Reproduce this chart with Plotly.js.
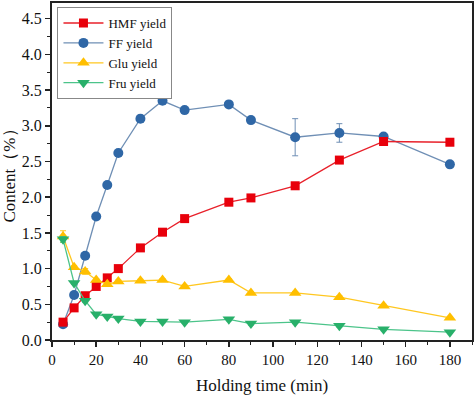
<!DOCTYPE html>
<html>
<head>
<meta charset="utf-8">
<script src="https://cdn.plot.ly/plotly-3.0.1.min.js"></script>
<style>html,body{margin:0;padding:0;background:#fff;}#chart{width:474px;height:395px;}</style>
</head>
<body>
<div id="chart"></div>
<script>
const time = [5, 10, 15, 20, 25, 30, 40, 50, 60, 80, 90, 110, 130, 150, 180];
const hmf = [0.25, 0.45, 0.62, 0.75, 0.87, 1.00, 1.29, 1.51, 1.70, 1.93, 1.99, 2.16, 2.52, 2.78, 2.77];
const hmfErr = [0.02, 0.02, 0.03, 0.02, 0.02, 0.02, 0.02, 0.02, 0.02, 0.02, 0.02, 0.04, 0.02, 0.02, 0.02];
const ff = [0.22, 0.63, 1.18, 1.73, 2.17, 2.62, 3.10, 3.35, 3.22, 3.30, 3.08, 2.84, 2.90, 2.85, 2.46];
const ffErr = [0.02, 0.02, 0.02, 0.02, 0.02, 0.02, 0.05, 0.02, 0.02, 0.02, 0.02, 0.26, 0.13, 0.02, 0.02];
const glu = [1.45, 1.02, 0.96, 0.84, 0.78, 0.82, 0.83, 0.84, 0.75, 0.84, 0.66, 0.66, 0.60, 0.48, 0.31];
const gluErr = [0.08, 0.02, 0.04, 0.02, 0.02, 0.02, 0.02, 0.02, 0.02, 0.02, 0.02, 0.02, 0.02, 0.02, 0.02];
const fru = [1.41, 0.80, 0.55, 0.36, 0.33, 0.30, 0.26, 0.26, 0.25, 0.29, 0.23, 0.25, 0.20, 0.15, 0.11];
const fruErr = [0.04, 0.02, 0.02, 0.02, 0.02, 0.02, 0.02, 0.02, 0.02, 0.02, 0.02, 0.02, 0.02, 0.02, 0.02];
const names = ['HMF yield', 'FF yield', 'Glu yield', 'Fru yield'];

function tr(y, err, name, rank, lineColor, markColor, symbol, size) {
  return {
    x: time, y: y, name: name, legendrank: rank, type: 'scatter', mode: 'lines+markers',
    line: {color: lineColor, width: 1.3},
    marker: {color: markColor, symbol: symbol, size: size},
    error_y: {type: 'data', array: err, visible: true, color: lineColor, thickness: 1, width: 3}
  };
}
const data = [
  tr(ff, ffErr, names[1], 2, '#6f8fb5', '#2f67a6', 'circle', 10),
  tr(hmf, hmfErr, names[0], 1, '#e8202a', '#e8000b', 'square', 9),
  tr(glu, gluErr, names[2], 3, '#ffc720', '#ffbf00', 'triangle-up', 11),
  tr(fru, fruErr, names[3], 4, '#4cc48a', '#28b06a', 'triangle-down', 11)
];
const ff_ = 'Liberation Serif, Times New Roman, serif';
const layout = {
  width: 474, height: 395,
  margin: {l: 52, r: 2, t: 3, b: 55},
  paper_bgcolor: '#fff', plot_bgcolor: '#fff',
  font: {family: ff_, color: '#111', size: 15},
  showlegend: true,
  legend: {x: 0.013, y: 0.988, xanchor: 'left', yanchor: 'top', bgcolor: '#fff',
           bordercolor: '#888', borderwidth: 1, font: {family: ff_, size: 13, color: '#111'},
           tracegroupgap: 0, itemwidth: 40, traceorder: 'normal'},
  xaxis: {
    range: [0, 190], tickmode: 'array', tickvals: [0,20,40,60,80,100,120,140,160,180],
    ticks: 'outside', ticklen: 5, tickwidth: 1.5, tickcolor: '#222',
    showline: true, linewidth: 2, linecolor: '#222', mirror: true,
    showgrid: false, zeroline: false,
    minor: {dtick: 10, ticks: 'outside', ticklen: 3, tickcolor: '#222', tickwidth: 1},
    title: {text: 'Holding time (min)', font: {family: ff_, size: 17, color: '#111'}, standoff: 12},
    tickfont: {family: ff_, size: 15, color: '#111'}
  },
  yaxis: {
    range: [0, 4.72], tickmode: 'array', tickvals: [0,0.5,1,1.5,2,2.5,3,3.5,4,4.5],
    ticktext: ['0.0','0.5','1.0','1.5','2.0','2.5','3.0','3.5','4.0','4.5'],
    ticks: 'outside', ticklen: 5, tickwidth: 1.5, tickcolor: '#222',
    showline: true, linewidth: 2, linecolor: '#222', mirror: true,
    showgrid: false, zeroline: false,
    minor: {dtick: 0.25, ticks: 'outside', ticklen: 3, tickcolor: '#222', tickwidth: 1},
    title: {text: '\u00a0\u00a0\u00a0\u00a0Content（%）', font: {family: ff_, size: 17, color: '#111'}, standoff: 6},
    tickfont: {family: ff_, size: 16, color: '#111'}
  }
};
Plotly.newPlot('chart', data, layout, {displayModeBar: false, staticPlot: true});
</script>
</body>
</html>
